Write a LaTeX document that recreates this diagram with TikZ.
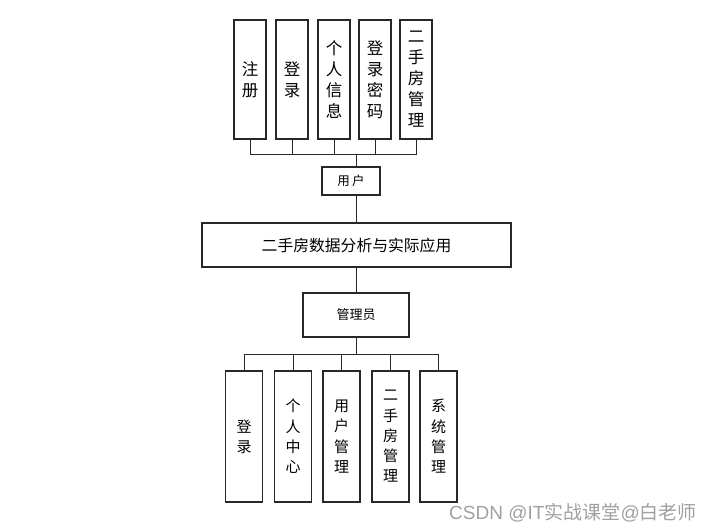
\documentclass[tikz,border=0pt]{standalone}
\usepackage{fontspec}
\newfontfamily\cjk{Noto Sans CJK SC}
\newfontfamily\wmlat{Liberation Sans}
\definecolor{lnc}{RGB}{40,40,40}
\definecolor{wm}{RGB}{160,160,160}
\tikzset{
  box/.style={draw=lnc, line width=1.3pt, fill=white, inner sep=0pt, align=center},
  topbox/.style={box, minimum width=32pt, minimum height=119pt, font=\cjk\fontsize{16.5}{21}\selectfont},
  botbox/.style={box, minimum width=37pt, minimum height=131pt, font=\cjk\fontsize{15}{20.3}\selectfont},
  conn/.style={draw=lnc, line width=1pt},
}
\begin{document}
\begin{tikzpicture}[x=1pt, y=-1pt]
\useasboundingbox (0,0) rectangle (709,532);
% top boxes
\node[topbox] (t1) at (250,79.5) {注\\册};
\node[topbox] (t2) at (292,79.5) {登\\录};
\node[topbox] (t3) at (334,79.5) {个\\人\\信\\息};
\node[topbox] (t4) at (375,79.5) {登\\录\\密\\码};
\node[topbox] (t5) at (416,79.5) {二\\手\\房\\管\\理};
% middle
\node[box, minimum width=58pt, minimum height=28pt, font=\cjk\fontsize{12.5}{14}\selectfont] (user) at (351,181) {用\,户};
\node[box, minimum width=309pt, minimum height=44pt, font=\cjk\fontsize{15.8}{18}\selectfont] (main) at (356.5,245) {二手房数据分析与实际应用};
\node[box, minimum width=106pt, minimum height=44pt, font=\cjk\fontsize{13}{15}\selectfont] (admin) at (356,315) {管理员};
% bottom boxes
\node[botbox] (b1) at (244,436.5) {登\\录};
\node[botbox] (b2) at (293,436.5) {个\\人\\中\\心};
\node[botbox] (b3) at (341.5,436.5) {用\\户\\管\\理};
\node[botbox] (b4) at (390.5,436.5) {二\\手\\房\\管\\理};
\node[botbox] (b5) at (438.5,436.5) {系\\统\\管\\理};
% connectors top
\coordinate (tb) at (356,154);
\foreach \n in {t1,t2,t3,t4,t5} \draw[conn] (\n.south) |- (tb);
\draw[conn] (tb) -- (tb |- user.north);
\draw[conn] (user.south -| tb) -- (main.north -| tb);
\draw[conn] (main.south -| admin.north) -- (admin.north);
% connectors bottom
\coordinate (bb) at (356,354);
\draw[conn] (admin.south) -- (bb);
\foreach \n in {b1,b2,b3,b4,b5} \draw[conn] (bb) -| (\n.north);
% watermark
\node[text=wm, anchor=east, inner sep=0pt] (wmk) at (697,513) {\wmlat\fontsize{19}{21}\selectfont CSDN @IT\cjk 实战课堂\wmlat @\cjk 白老师};
\end{tikzpicture}
\end{document}
